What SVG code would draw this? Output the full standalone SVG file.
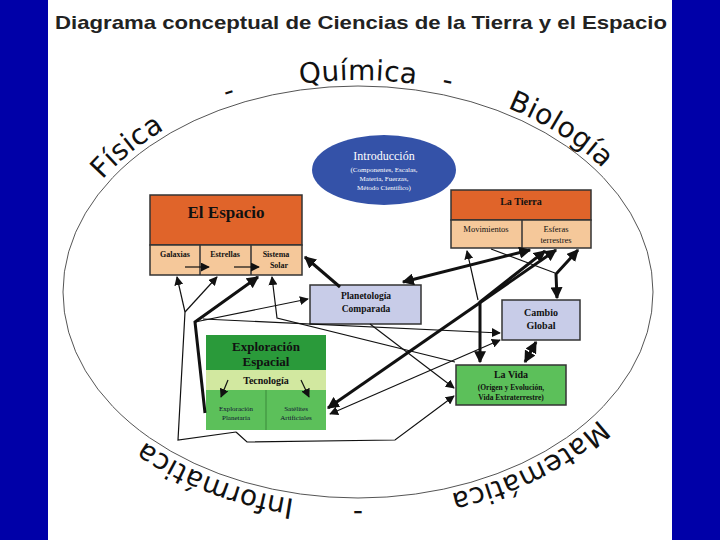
<svg xmlns="http://www.w3.org/2000/svg" width="720" height="540" viewBox="0 0 720 540">
<style>
.t{font-family:"Liberation Serif",serif;font-weight:bold;fill:#111;text-anchor:middle}
.disc{font-family:"DejaVu Sans","Liberation Sans",sans-serif;font-size:28px;fill:#111}
.thin{stroke:#111;stroke-width:1.2;fill:none}
.thick{stroke:#111;stroke-width:3;fill:none}
.bx{stroke:#333;stroke-width:1.5}
</style>
<defs>
<marker id="a" viewBox="0 0 10 10" refX="9" refY="5" markerWidth="9" markerHeight="9" markerUnits="userSpaceOnUse" orient="auto-start-reverse"><path d="M0,0L10,5L0,10z" fill="#111"/></marker>
<marker id="b" viewBox="0 0 10 10" refX="9" refY="5" markerWidth="12" markerHeight="12" markerUnits="userSpaceOnUse" orient="auto-start-reverse"><path d="M0,0L10,5L0,10z" fill="#111"/></marker>
<path id="ell" d="M63,292 A295,206 0 1,1 653,292 A295,206 0 1,1 63,292"/>
</defs>
<rect width="720" height="540" fill="#0000a8"/>
<rect x="48" y="0" width="624" height="540" fill="#fff"/>
<text x="55" y="29" font-family="Liberation Sans,sans-serif" font-weight="bold" font-size="19" fill="#222" textLength="612" lengthAdjust="spacingAndGlyphs">Diagrama conceptual de Ciencias de la Tierra y el Espacio</text>
<use href="#ell" fill="none" stroke="#555" stroke-width="1"/>
<text class="disc" dy="-6"><textPath href="#ell" startOffset="10%" text-anchor="middle">Física</textPath></text>
<text class="disc" dy="-6"><textPath href="#ell" startOffset="17%" text-anchor="middle">-</textPath></text>
<text class="disc" dy="-6"><textPath href="#ell" startOffset="25%" text-anchor="middle">Química</textPath></text>
<text class="disc" dy="-6"><textPath href="#ell" startOffset="30.5%" text-anchor="middle">-</textPath></text>
<text class="disc" dy="-6"><textPath href="#ell" startOffset="38%" text-anchor="middle">Biología</textPath></text>
<text class="disc" dy="-6"><textPath href="#ell" startOffset="64%" text-anchor="middle">Matemática</textPath></text>
<text class="disc" dy="-6"><textPath href="#ell" startOffset="75%" text-anchor="middle">-</textPath></text>
<text class="disc" dy="-6"><textPath href="#ell" startOffset="84%" text-anchor="middle">Informática</textPath></text>

<g id="intro">
<ellipse cx="384" cy="170" rx="72" ry="35" fill="#3452a8"/>
<text x="384" y="160" font-family="Liberation Serif,serif" font-size="12" fill="#fff" text-anchor="middle">Introducción</text>
<text x="384" y="172" font-family="Liberation Serif,serif" font-size="7" fill="#fff" text-anchor="middle">(Componentes, Escalas,</text>
<text x="384" y="181" font-family="Liberation Serif,serif" font-size="7" fill="#fff" text-anchor="middle">Materia, Fuerzas,</text>
<text x="384" y="190" font-family="Liberation Serif,serif" font-size="7" fill="#fff" text-anchor="middle">Método Científico)</text>
</g>
<g id="espacio">
<rect class="bx" x="150" y="195" width="152" height="50" fill="#e0642a"/>
<rect class="bx" x="150" y="245" width="152" height="30" fill="#f5c89a"/>
<line class="bx" x1="200" y1="245" x2="200" y2="275"/><line class="bx" x1="251" y1="245" x2="251" y2="275"/>
<text class="t" x="226" y="218" font-size="17">El Espacio</text>
<text class="t" x="175" y="257" font-size="8">Galaxias</text>
<text class="t" x="225" y="257" font-size="8">Estrellas</text>
<text class="t" x="276" y="257" font-size="8">Sistema</text>
<text class="t" x="279" y="268" font-size="8">Solar</text>
<line class="thin" x1="185" y1="267" x2="209" y2="267" marker-end="url(#a)"/>
<line class="thin" x1="234" y1="267" x2="259" y2="267" marker-end="url(#a)"/>
</g>
<g id="tierra">
<rect class="bx" x="451" y="190" width="140" height="30" fill="#e0642a"/>
<rect class="bx" x="451" y="220" width="140" height="28" fill="#f5c89a"/>
<line class="bx" x1="522" y1="220" x2="522" y2="248"/>
<text class="t" x="521" y="205" font-size="10">La Tierra</text>
<text x="486" y="232" font-family="Liberation Serif,serif" font-size="8.5" fill="#111" text-anchor="middle">Movimientos</text>
<text x="556" y="232" font-family="Liberation Serif,serif" font-size="8.5" fill="#111" text-anchor="middle">Esferas</text>
<text x="556" y="243" font-family="Liberation Serif,serif" font-size="8.5" fill="#111" text-anchor="middle">terrestres</text>
</g>
<g id="planetologia">
<rect class="bx" x="310" y="285" width="111" height="39" fill="#c8cce8"/>
<text class="t" x="366" y="299" font-size="9.5">Planetología</text>
<text class="t" x="366" y="312" font-size="9.5">Comparada</text>
</g>
<g id="cambio">
<rect class="bx" x="502" y="300" width="78" height="40" fill="#c8cce8"/>
<text class="t" x="541" y="316" font-size="10">Cambio</text>
<text class="t" x="541" y="329" font-size="10">Global</text>
</g>
<g id="exploracion">
<rect x="206" y="335" width="120" height="35" fill="#2a9a3a"/>
<rect x="206" y="370" width="120" height="20" fill="#d2e8a0"/>
<rect x="206" y="390" width="120" height="40" fill="#5cc05a"/>
<line x1="266" y1="390" x2="266" y2="430" stroke="#3a8a3a"/>
<text class="t" x="266" y="351" font-size="13">Exploración</text>
<text class="t" x="266" y="366" font-size="13">Espacial</text>
<text class="t" x="266" y="384" font-size="10">Tecnología</text>
<text x="236" y="411" font-family="Liberation Serif,serif" font-size="7" fill="#113" text-anchor="middle">Exploración</text>
<text x="236" y="420" font-family="Liberation Serif,serif" font-size="7" fill="#113" text-anchor="middle">Planetaria</text>
<text x="296" y="411" font-family="Liberation Serif,serif" font-size="7" fill="#113" text-anchor="middle">Satélites</text>
<text x="296" y="420" font-family="Liberation Serif,serif" font-size="7" fill="#113" text-anchor="middle">Artificiales</text>
<line class="thin" x1="228" y1="380" x2="221" y2="397" marker-end="url(#a)"/>
<line class="thin" x1="301" y1="380" x2="309" y2="397" marker-end="url(#a)"/>
</g>
<g id="vida">
<rect class="bx" x="456" y="365" width="110" height="40" fill="#5cc05a"/>
<text class="t" x="511" y="378" font-size="10">La Vida</text>
<text class="t" x="511" y="390" font-size="7.5">(Origen y Evolución,</text>
<text class="t" x="511" y="400" font-size="7.5">Vida Extraterrestre)</text>
</g>
<g id="connectors">
<line class="thick" x1="340" y1="287" x2="305" y2="257" marker-end="url(#b)"/>
<line class="thick" x1="403" y1="282" x2="530" y2="250" marker-start="url(#b)" marker-end="url(#b)"/>
<polyline class="thick" points="480,362 480,302 545,251" marker-start="url(#b)" marker-end="url(#b)"/>
<line class="thick" x1="328" y1="408" x2="556" y2="250" marker-start="url(#b)" marker-end="url(#b)"/>
<polyline class="thick" points="578,250 556,274 557,298" marker-start="url(#b)" marker-end="url(#b)"/>
<line class="thick" x1="525" y1="362" x2="536" y2="342" marker-start="url(#b)" marker-end="url(#b)"/>
<polyline class="thick" points="205,413 195,322 258,277" marker-end="url(#b)"/>
<line class="thin" x1="491" y1="249" x2="555" y2="273"/>
<line class="thin" x1="478" y1="300" x2="467" y2="251" marker-end="url(#a)"/>
<line class="thin" x1="195" y1="322" x2="308" y2="299" marker-end="url(#a)"/>
<line class="thin" x1="203" y1="319" x2="500" y2="333" marker-end="url(#a)"/>
<line class="thin" x1="500" y1="340" x2="330" y2="414" marker-start="url(#a)" marker-end="url(#a)"/>
<line class="thin" x1="370" y1="324" x2="454" y2="388" marker-end="url(#a)"/>
<polyline class="thin" points="236,432 247,442 395,440 454,396" marker-end="url(#a)"/>
<polyline class="thin" points="272,277 277,318 455,362" marker-start="url(#a)"/>
<line class="thin" x1="185" y1="312" x2="177" y2="277" marker-end="url(#a)"/>
<line class="thin" x1="185" y1="312" x2="217" y2="277" marker-end="url(#a)"/>
<polyline class="thin" points="185,312 178,440 236,432"/>
</g>
</svg>
